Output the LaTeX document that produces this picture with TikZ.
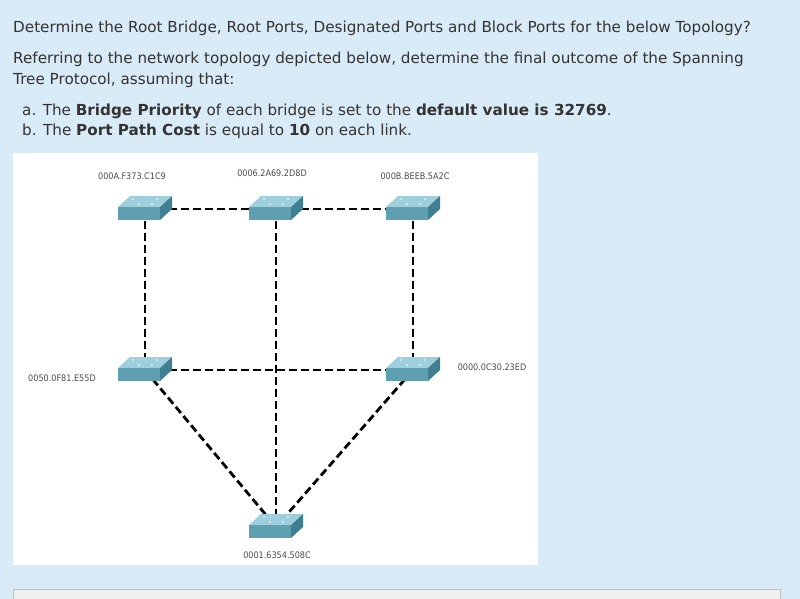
\documentclass[tikz,border=0pt]{standalone}
\usepackage{fontspec}
\setmainfont{DejaVu Sans}
\newfontfamily\labfont{DejaVu Sans Condensed}
\definecolor{bgc}{HTML}{D9EBF7}
\definecolor{swtop}{HTML}{9FCFDC}
\definecolor{swfront}{HTML}{5E9FB2}
\definecolor{swside}{HTML}{3F7F92}
\begin{document}
\begin{tikzpicture}[x=1pt,y=-1pt,
  txt/.style={anchor=west,inner sep=0,font=\fontsize{15.2}{17}\selectfont,text=black!80},
  lab/.style={inner sep=0,font=\labfont\fontsize{9}{10}\selectfont,text=black!70},
  link/.style={line width=2.8pt,dash pattern=on 8pt off 4pt}]
\useasboundingbox (0,0) rectangle (800,599);
\fill[bgc] (0,0) rectangle (800,599);
\fill[white] (13,153) rectangle (538,565);
\fill[gray!12] (13,589) rectangle (780,599);
\draw[gray!50] (13,599) -- (13,589) -- (780,589) -- (780,599);
\node[txt] (t1) at (13,28) {Determine the Root Bridge, Root Ports, Designated Ports and Block Ports for the below Topology?};
\node[txt] (t2) at (13,59) {Referring to the network topology depicted below, determine the final outcome of the Spanning};
\node[txt] (t3) at (13,80) {Tree Protocol, assuming that:};
\node[txt] (t4) at (22,111) {a. The \textbf{Bridge Priority} of each bridge is set to the \textbf{default value is 32769}.};
\node[txt] (t5) at (22,131) {b. The \textbf{Port Path Cost} is equal to \textbf{10} on each link.};
\coordinate (A) at (145,209);
\coordinate (B) at (276,209);
\coordinate (C) at (413,209);
\coordinate (D) at (145,370);
\coordinate (E) at (413,370);
\coordinate (F) at (276,527);
\draw[link] (A) -- (C);
\draw[link] (A) -- (D);
\draw[link] (C) -- (E);
\draw[link] (B) -- (F);
\draw[link] (D) -- (E);
\draw[link] (D) -- (F);
\draw[link] (E) -- (F);
\foreach \p in {A,B,C,D,E,F}{
  \begin{scope}[shift={(\p)}]
   \fill[swtop] (-27,-2) -- (-15,-13) -- (27,-13) -- (15,-2) -- cycle;
   \fill[swfront] (-27,-2) rectangle (15,11);
   \fill[swside] (15,-2) -- (27,-13) -- (27,0) -- (15,11) -- cycle;
   \fill[white] (-12,-10) circle (0.9) (12,-10) circle (0.9) (-6,-5) circle (0.9) (7,-5) circle (0.9);
  \end{scope}}
\node[lab] (la) at (132,176) {000A.F373.C1C9};
\node[lab] (lb) at (272,173) {0006.2A69.2D8D};
\node[lab] (lc) at (415,176) {000B.BEEB.5A2C};
\node[lab] (ld) at (62,378) {0050.0F81.E55D};
\node[lab] (le) at (492,367) {0000.0C30.23ED};
\node[lab] (lf) at (277,555) {0001.6354.508C};
\end{tikzpicture}
\end{document}
